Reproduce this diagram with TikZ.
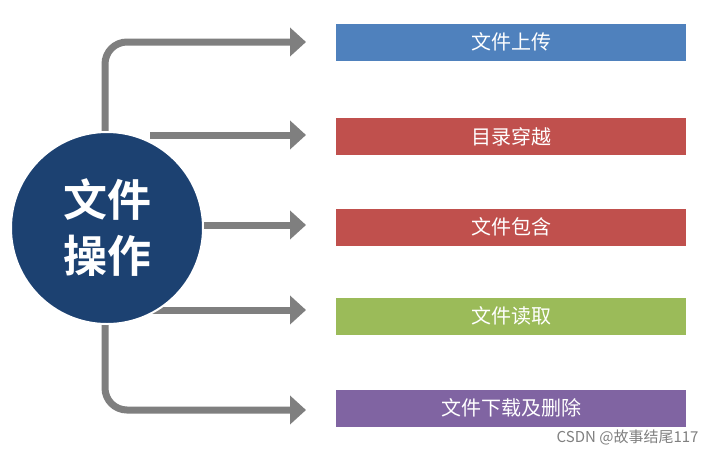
\documentclass[tikz,border=0pt]{standalone}
\usepackage{fontspec}
\newfontfamily\cjk{Noto Sans CJK SC}
\newfontfamily\cjkb{Noto Sans CJK SC Bold}
\usetikzlibrary{arrows.meta}
\definecolor{cb}{HTML}{4F81BD}
\definecolor{cr}{HTML}{C0504D}
\definecolor{cg}{HTML}{9BBB59}
\definecolor{cp}{HTML}{8064A2}
\definecolor{cc}{HTML}{1C4171}
\definecolor{ca}{HTML}{7F7F7F}
\tikzset{
 box/.style={minimum width=350pt,minimum height=37pt,inner sep=0pt,text=white,font=\cjk\fontsize{20}{24}\selectfont},
 arr/.style={draw=ca,line width=7pt,-{Triangle[length=16pt,width=28pt]},rounded corners=22pt}
}
\begin{document}
\begin{tikzpicture}[x=1pt,y=-1pt]
\useasboundingbox[fill=white] (0,0) rectangle (714,456);
\node[box,fill=cb] (b1) at (511,42) {文件上传};
\node[box,fill=cr] (b2) at (511,136.5) {目录穿越};
\node[box,fill=cr] (b3) at (511,227) {文件包含};
\node[box,fill=cg] (b4) at (511,316) {文件读取};
\node[box,fill=cp] (b5) at (511,408) {文件下载及删除};
\coordinate (e1) at (306,42);
\coordinate (e2) at (306,135);
\coordinate (e3) at (306,225);
\coordinate (e4) at (306,310);
\coordinate (e5) at (306,410);
\draw[arr] (105,200) -- (105,42) -- (e1);
\draw[arr] (105,410-100) -- (105,410) -- (e5);
\draw[arr] (150,135) -- (e2);
\draw[arr] (150,225) -- (e3);
\draw[arr] (150,310) -- (e4);
\node[circle,fill=cc,draw=white,line width=2pt,minimum size=192pt,text=white,align=center,font=\cjkb\fontsize{44}{56}\selectfont] (c) at (107,228) {文件\\操作};
\node[text=gray,font=\cjk\fontsize{15}{18}\selectfont,anchor=east] (w) at (702,437) {CSDN @故事结尾117};
\end{tikzpicture}
\end{document}
